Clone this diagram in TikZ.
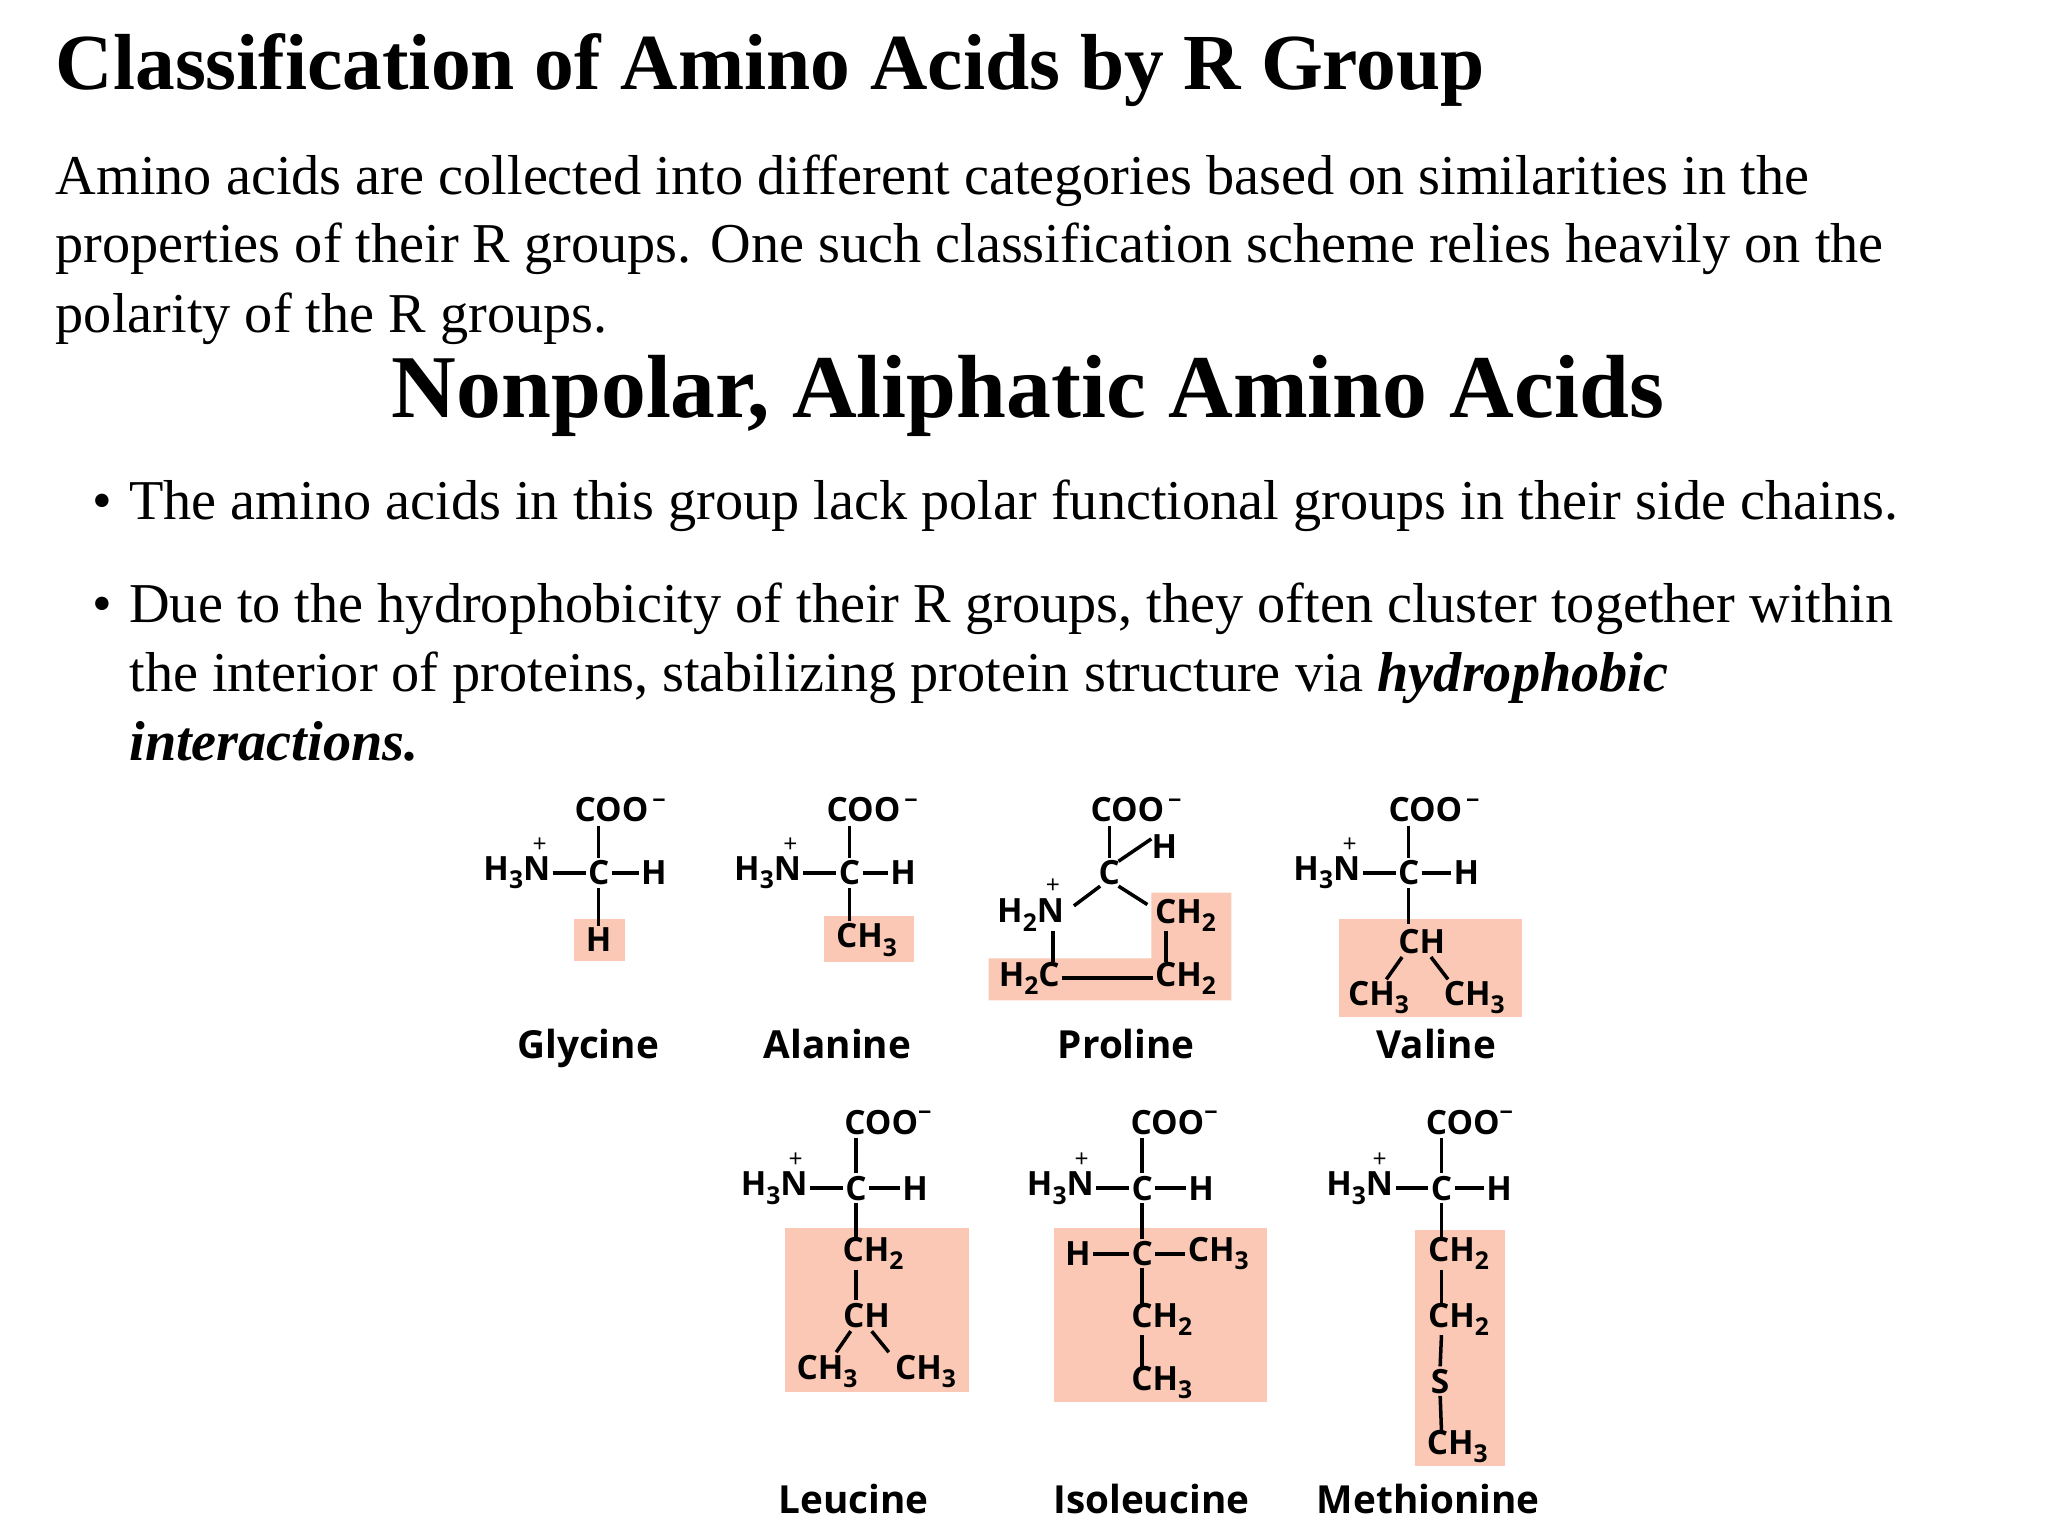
\documentclass[tikz,border=0pt]{standalone}
\usepackage{fontspec}
\setmainfont{Liberation Serif}
\newfontfamily\chem{Open Sans}
\newcommand{\sbs}[1]{\raisebox{-0.45ex}{\fontsize{7pt}{7pt}\selectfont #1}}
\definecolor{rbox}{RGB}{250,200,180}
\begin{document}
\begin{tikzpicture}[x=0.013128cm,y=-0.013128cm,
  tx/.style={anchor=base west,inner sep=0pt,font=\fontsize{16pt}{19pt}\selectfont},
  ch/.style={inner sep=0.5pt,font=\chem\bfseries\fontsize{9.5pt}{10pt}\selectfont},
  pl/.style={inner sep=0pt,font=\chem\fontsize{7pt}{7pt}\selectfont},
  nm/.style={inner sep=0pt,anchor=base,font=\chem\bfseries\fontsize{11pt}{12pt}\selectfont},
  bd/.style={line width=1pt},
  hl/.style={fill=rbox,draw=none}]
\useasboundingbox (0,0) rectangle (1560,1170);
% texts
\node[tx,font=\bfseries\fontsize{22.6pt}{26pt}\selectfont] (title) at (42,68) {Classification of Amino Acids by R Group};
\node[tx] (p1) at (42,148) {Amino acids are collected into different categories based on similarities in the};
\node[tx] (p2) at (42,200) {properties of their R groups. One such classification scheme relies heavily on the};
\node[tx] (p3) at (42,253) {polarity of the R groups.};
\node[inner sep=0pt,anchor=base,font=\bfseries\fontsize{25.5pt}{28pt}\selectfont] (head) at (783,318) {Nonpolar, Aliphatic Amino Acids};
\node[tx] (b1) at (70,396) {\textbullet};
\node[tx] (t1) at (98,396) {The amino acids in this group lack polar functional groups in their side chains.};
\node[tx] (b2) at (70,474) {\textbullet};
\node[tx] (t2) at (98,474) {Due to the hydrophobicity of their R groups, they often cluster together within};
\node[tx] (t3) at (98,527) {the interior of proteins, stabilizing protein structure via \textbf{\textit{hydrophobic}}};
\node[tx] (t4) at (98,579) {\textbf{\textit{interactions.}}};

% highlight boxes
\fill[hl] (437,700) rectangle (476,732);
\fill[hl] (628,698) rectangle (696,733);
\fill[hl] (753,762) -- (938,762) -- (938,680) -- (877,680) -- (877,730) -- (753,730) -- cycle;
\fill[hl] (1020,700) rectangle (1159,775);
\fill[hl] (598,935) rectangle (738,1060);
\fill[hl] (803,935) rectangle (965,1068);
\fill[hl] (1078,937) rectangle (1146,1117);

% ---- Glycine
\node[ch] (gcoo) at (473,617) {COO\textsuperscript{\,\textminus}};
\node[ch] (gc) at (456,665) {C};
\node[ch,anchor=east] (gn) at (421,665) {H\sbs{3}N};
\node[pl] (gp) at (411,644) {+};
\node[ch] (gh) at (498,665) {H};
\node[ch] (gr) at (456,716) {H};
\draw[bd] (456,629) -- (gc.north);
\draw[bd] (gn.east) -- (gc.west);
\draw[bd] (gc.east) -- (gh.west);
\draw[bd] (gc.south) -- (gr.north);
\node[nm] (gname) at (448,806) {Glycine};

% ---- Alanine
\node[ch] (acoo) at (665,617) {COO\textsuperscript{\,\textminus}};
\node[ch] (ac) at (647,665) {C};
\node[ch,anchor=east] (an) at (612,665) {H\sbs{3}N};
\node[pl] (ap) at (602,644) {+};
\node[ch] (ah) at (688,665) {H};
\node[ch] (ar) at (660,716) {CH\sbs{3}};
\draw[bd] (647,629) -- (ac.north);
\draw[bd] (an.east) -- (ac.west);
\draw[bd] (ac.east) -- (ah.west);
\draw[bd] (ac.south) -- (ac.south |- ar.north);
\node[nm] (aname) at (638,806) {Alanine};

% ---- Proline
\node[ch] (pcoo) at (866,617) {COO\textsuperscript{\,\textminus}};
\node[ch] (pc) at (845,665) {C};
\node[ch] (ph) at (887,645) {H};
\node[ch] (pn) at (785,697) {H\sbs{2}N};
\node[pl] (pp) at (802,675) {+};
\node[ch] (pc2) at (903,697) {CH\sbs{2}};
\node[ch] (pc3) at (784,745) {H\sbs{2}C};
\node[ch] (pc4) at (903,745) {CH\sbs{2}};
\draw[bd] (845,629) -- (pc.north);
\draw[bd] (852,656) -- (877,639);
\draw[bd] (838,675) -- (818,690);
\draw[bd] (852,675) -- (874,689);
\draw[bd] (802,709) -- (802,733);
\draw[bd] (888,709) -- (888,733);
\draw[bd] (pc3.east) -- (pc4.west);
\node[nm] (pname) at (858,806) {Proline};

% ---- Valine
\node[ch] (vcoo) at (1093,617) {COO\textsuperscript{\,\textminus}};
\node[ch] (vc) at (1073,665) {C};
\node[ch,anchor=east] (vn) at (1038,665) {H\sbs{3}N};
\node[pl] (vp) at (1028,644) {+};
\node[ch] (vh) at (1117,665) {H};
\node[ch] (vr) at (1083,717) {CH};
\node[ch] (vm1) at (1050,760) {CH\sbs{3}};
\node[ch] (vm2) at (1123,760) {CH\sbs{3}};
\draw[bd] (1073,629) -- (vc.north);
\draw[bd] (vn.east) -- (vc.west);
\draw[bd] (vc.east) -- (vh.west);
\draw[bd] (vc.south) -- (1073,704);
\draw[bd] (1068,729) -- (1056,746);
\draw[bd] (1090,729) -- (1103,746);
\node[nm] (vname) at (1094,806) {Valine};

% ---- Leucine
\node[ch] (lcoo) at (677,855) {COO\textsuperscript{\textminus}};
\node[ch] (lc) at (652,905) {C};
\node[ch,anchor=east] (ln) at (617,905) {H\sbs{3}N};
\node[pl] (lp) at (606,884) {+};
\node[ch] (lh) at (697,905) {H};
\node[ch] (l1) at (665,955) {CH\sbs{2}};
\node[ch] (l2) at (660,1002) {CH};
\node[ch] (l3) at (630,1045) {CH\sbs{3}};
\node[ch] (l4) at (705,1045) {CH\sbs{3}};
\draw[bd] (652,867) -- (lc.north);
\draw[bd] (ln.east) -- (lc.west);
\draw[bd] (lc.east) -- (lh.west);
\draw[bd] (lc.south) -- (652,943);
\draw[bd] (652,967) -- (652,990);
\draw[bd] (648,1014) -- (637,1030);
\draw[bd] (664,1014) -- (677,1030);
\node[nm] (lname) at (650,1153) {Leucine};

% ---- Isoleucine
\node[ch] (icoo) at (895,855) {COO\textsuperscript{\textminus}};
\node[ch] (ic) at (870,905) {C};
\node[ch,anchor=east] (in) at (835,905) {H\sbs{3}N};
\node[pl] (ip) at (824,884) {+};
\node[ch] (ih) at (915,905) {H};
\node[ch] (i0) at (821,955) {H};
\node[ch] (ic2) at (870,955) {C};
\node[ch] (im) at (928,955) {CH\sbs{3}};
\node[ch] (i1) at (885,1005) {CH\sbs{2}};
\node[ch] (i2) at (885,1053) {CH\sbs{3}};
\draw[bd] (870,867) -- (ic.north);
\draw[bd] (in.east) -- (ic.west);
\draw[bd] (ic.east) -- (ih.west);
\draw[bd] (ic.south) -- (ic2.north);
\draw[bd] (i0.east) -- (ic2.west);
\draw[bd] (ic2.east) -- (im.west);
\draw[bd] (ic2.south) -- (870,993);
\draw[bd] (870,1017) -- (870,1041);
\node[nm] (iname) at (877,1153) {Isoleucine};

% ---- Methionine
\node[ch] (mcoo) at (1120,855) {COO\textsuperscript{\textminus}};
\node[ch] (mc) at (1098,905) {C};
\node[ch,anchor=east] (mn) at (1063,905) {H\sbs{3}N};
\node[pl] (mp) at (1051,884) {+};
\node[ch] (mh) at (1142,905) {H};
\node[ch] (m1) at (1111,955) {CH\sbs{2}};
\node[ch] (m2) at (1111,1005) {CH\sbs{2}};
\node[ch] (m3) at (1097,1052) {S};
\node[ch] (m4) at (1110,1102) {CH\sbs{3}};
\draw[bd] (1098,867) -- (mc.north);
\draw[bd] (mn.east) -- (mc.west);
\draw[bd] (mc.east) -- (mh.west);
\draw[bd] (mc.south) -- (1098,943);
\draw[bd] (1098,967) -- (1098,993);
\draw[bd] (1098,1017) -- (m3.north);
\draw[bd] (m3.south) -- (1098,1090);
\node[nm] (mname) at (1088,1153) {Methionine};
\end{tikzpicture}
\end{document}
